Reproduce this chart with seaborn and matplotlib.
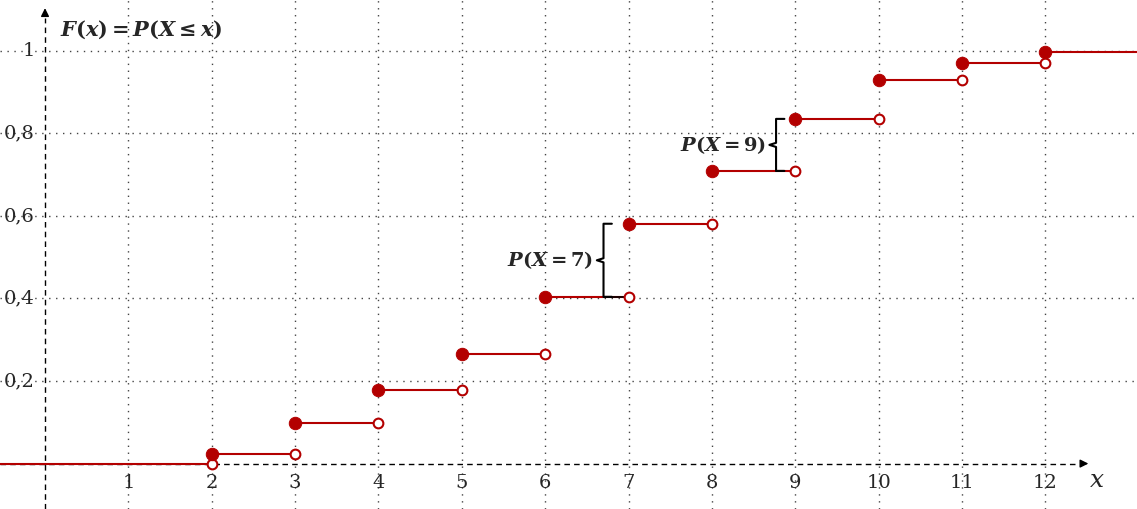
import matplotlib
matplotlib.use("Agg")
import matplotlib.pyplot as plt
import seaborn as sns
import numpy as np

xs = [2, 3, 4, 5, 6, 7, 8, 9, 10, 11, 12]
F = [0.024, 0.099, 0.179, 0.266, 0.404, 0.581, 0.709, 0.835, 0.930, 0.971, 0.998]
xticks = list(range(1, 13))
yticks = [0.2, 0.4, 0.6, 0.8, 1.0]
ylabels = ["0,2", "0,4", "0,6", "0,8", "1"]

sns.set_theme(style="white")
plt.rcParams['font.family'] = ['DejaVu Serif']
plt.rcParams['mathtext.fontset'] = 'dejavuserif'
fig = plt.figure(figsize=(11.37, 5.09), dpi=100)
ax = fig.add_axes([0, 0, 1, 1])
xmin, xmax, ymin, ymax = -0.54, 13.1, -0.11, 1.123
ax.set_xlim(xmin, xmax); ax.set_ylim(ymin, ymax)
for s in ax.spines.values(): s.set_visible(False)
ax.set_xticks([]); ax.set_yticks([])

red = "#b30000"
for x in xticks:
    ax.plot([x, x], [ymin, ymax], ls=(0, (1, 4)), color="#444", lw=1, zorder=0)
for y in yticks:
    ax.plot([xmin, xmax], [y, y], ls=(0, (1, 4)), color="#444", lw=1, zorder=0)
ax.plot([0, 0], [ymin, 1.08], ls=(0, (4, 3)), color="black", lw=1, zorder=1)
ax.plot([xmin, 12.4], [0, 0], ls=(0, (4, 3)), color="black", lw=1, zorder=1)
ax.annotate("", xy=(12.55, 0), xytext=(12.4, 0), arrowprops=dict(arrowstyle="-|>", color="black", lw=1))
ax.annotate("", xy=(0, 1.11), xytext=(0, 1.08), arrowprops=dict(arrowstyle="-|>", color="black", lw=1))

sns.lineplot(x=[xmin, xs[0]], y=[0, 0], color=red, lw=1.5, ax=ax)
prev = 0
for i, x in enumerate(xs):
    nxt = xs[i + 1] if i + 1 < len(xs) else xmax
    ax.plot([x, nxt], [F[i], F[i]], color=red, lw=1.5, zorder=2)
    ax.plot(x, prev, 'o', mfc="white", mec=red, mew=1.5, ms=7, zorder=3)
    prev = F[i]
sns.scatterplot(x=xs, y=F, color=red, s=80, edgecolor=red, zorder=4, ax=ax)

for x in xticks:
    ax.text(x, -0.025, str(x), ha="center", va="top", fontsize=14)
for y, l in zip(yticks, ylabels):
    ax.text(-0.12, y, l, ha="right", va="center", fontsize=14)
ax.text(12.62, -0.04, "x", fontsize=18, style="italic", ha="center", va="center")
ax.text(0.18, 1.05, r"$\boldsymbol{F(x)=P(X\leq x)}$", fontsize=15, va="center")

def brace(xb, y0, y1, label):
    ym = (y0 + y1) / 2
    ax.plot([xb + 0.1, xb, xb, xb - 0.08, xb, xb, xb + 0.1],
            [y1, y1, ym + 0.005, ym, ym - 0.005, y0, y0], color="black", lw=1.5)
    ax.text(xb - 0.12, ym, label, ha="right", va="center", fontsize=14)
    ax.plot([xb, xb + 0.35 if y0 < 0.5 else xb + 0.1], [y0, y0], color="black", lw=1.2)

brace(6.7, 0.404, 0.581, r"$\boldsymbol{P(X=7)}$")
brace(8.77, 0.709, 0.835, r"$\boldsymbol{P(X=9)}$")
fig.savefig("out.png", dpi=100)
